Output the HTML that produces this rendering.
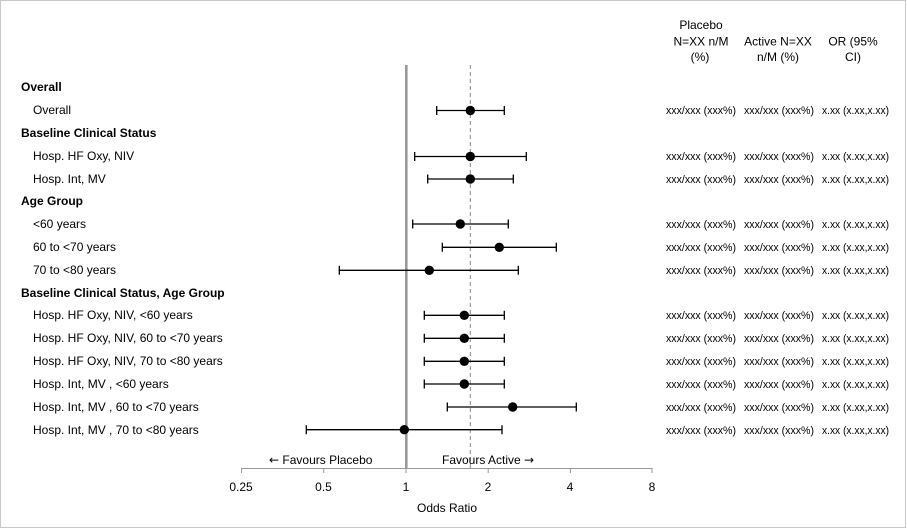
<!DOCTYPE html>
<html><head><meta charset="utf-8"><style>
html,body{margin:0;padding:0;background:#fff;}
svg{display:block;}
text{font-family:"Liberation Sans",Arial,sans-serif;font-size:12px;fill:#000;}
.b{font-weight:bold;}
.d{font-size:11px;}
.ar{font-family:"DejaVu Sans",sans-serif;font-size:12px;}
</style></head><body>
<svg width="907" height="529" viewBox="0 0 907 529" xmlns="http://www.w3.org/2000/svg">
<rect x="0.5" y="0.5" width="905" height="527" fill="#fff" stroke="#c8c8c8" stroke-width="1"/>
<!-- headers -->
<g text-anchor="middle">
<text x="701" y="29">Placebo</text>
<text x="701" y="45.5">N=XX n/M</text>
<text x="700" y="61">(%)</text>
<text x="778" y="45.5">Active N=XX</text>
<text x="778" y="61">n/M (%)</text>
<text x="853" y="45.5">OR (95%</text>
<text x="853" y="61">CI)</text>
</g>
<!-- reference lines -->
<line x1="470.3" y1="65" x2="470.3" y2="469" stroke="#888" stroke-width="1" stroke-dasharray="4,3"/>
<line x1="406.3" y1="65" x2="406.3" y2="469" stroke="#999" stroke-width="2.6"/>
<!-- axis -->
<g stroke="#999" stroke-width="1" fill="none">
<line x1="241" y1="468.5" x2="652.5" y2="468.5"/>
<line x1="241.5" y1="468" x2="241.5" y2="473"/>
<line x1="323.7" y1="468" x2="323.7" y2="473"/>
<line x1="406" y1="468" x2="406" y2="473"/>
<line x1="488.2" y1="468" x2="488.2" y2="473"/>
<line x1="570.4" y1="468" x2="570.4" y2="473"/>
<line x1="652" y1="468" x2="652" y2="473"/>
</g>
<g text-anchor="middle">
<text x="241" y="491">0.25</text>
<text x="323.5" y="491">0.5</text>
<text x="406" y="491">1</text>
<text x="488" y="491">2</text>
<text x="570" y="491">4</text>
<text x="652" y="491">8</text>
<text x="447" y="512">Odds Ratio</text>
</g>
<text x="269" y="464"><tspan class="ar">←</tspan> Favours Placebo</text>
<text x="442" y="464">Favours Active <tspan class="ar">→</tspan></text>
<!-- labels -->
<text class="b" x="21" y="91">Overall</text>
<text x="33" y="114">Overall</text>
<text class="b" x="21" y="137">Baseline Clinical Status</text>
<text x="33" y="160">Hosp. HF Oxy, NIV</text>
<text x="33" y="183">Hosp. Int, MV</text>
<text class="b" x="21" y="205">Age Group</text>
<text x="33" y="228">&lt;60 years</text>
<text x="33" y="251">60 to &lt;70 years</text>
<text x="33" y="274">70 to &lt;80 years</text>
<text class="b" x="21" y="297">Baseline Clinical Status, Age Group</text>
<text x="33" y="319">Hosp. HF Oxy, NIV, &lt;60 years</text>
<text x="33" y="342">Hosp. HF Oxy, NIV, 60 to &lt;70 years</text>
<text x="33" y="365">Hosp. HF Oxy, NIV, 70 to &lt;80 years</text>
<text x="33" y="388">Hosp. Int, MV , &lt;60 years</text>
<text x="33" y="411">Hosp. Int, MV , 60 to &lt;70 years</text>
<text x="33" y="434">Hosp. Int, MV , 70 to &lt;80 years</text>
<!-- error bars -->
<g stroke="#000" stroke-width="1.3" fill="none">
<path d="M436.7 110.5H504.3M436.7 106V115M504.3 106V115"/>
<path d="M414.7 156.5H526.3M414.7 152V161M526.3 152V161"/>
<path d="M427.7 179H513.3M427.7 174.5V183.5M513.3 174.5V183.5"/>
<path d="M412.7 224H508.3M412.7 219.5V228.5M508.3 219.5V228.5"/>
<path d="M442.3 247.3H556.3M442.3 242.8V251.8M556.3 242.8V251.8"/>
<path d="M339.3 270.3H518.3M339.3 265.8V274.8M518.3 265.8V274.8"/>
<path d="M424.3 315.3H504.3M424.3 310.8V319.8M504.3 310.8V319.8"/>
<path d="M424.3 338.3H504.3M424.3 333.8V342.8M504.3 333.8V342.8"/>
<path d="M424.3 361.3H504.3M424.3 356.8V365.8M504.3 356.8V365.8"/>
<path d="M424.3 384H504.3M424.3 379.5V388.5M504.3 379.5V388.5"/>
<path d="M447.3 407H576.3M447.3 402.5V411.5M576.3 402.5V411.5"/>
<path d="M306.3 429.7H502M306.3 425.2V434.2M502 425.2V434.2"/>
</g>
<g fill="#000">
<circle cx="470.3" cy="110.5" r="4.7"/>
<circle cx="470.3" cy="156.5" r="4.7"/>
<circle cx="470.3" cy="179" r="4.7"/>
<circle cx="460.3" cy="224" r="4.7"/>
<circle cx="499.3" cy="247.3" r="4.7"/>
<circle cx="429.3" cy="270.3" r="4.7"/>
<circle cx="464.3" cy="315.3" r="4.7"/>
<circle cx="464.3" cy="338.3" r="4.7"/>
<circle cx="464.3" cy="361.3" r="4.7"/>
<circle cx="464.3" cy="384" r="4.7"/>
<circle cx="512.7" cy="407" r="4.7"/>
<circle cx="404.3" cy="429.7" r="4.7"/>
</g>
<!-- data columns -->
<g class="d">
<g id="r1">
<text class="d" x="666" y="114" textLength="70" lengthAdjust="spacingAndGlyphs">xxx/xxx (xxx%)</text>
<text class="d" x="744" y="114" textLength="70" lengthAdjust="spacingAndGlyphs">xxx/xxx (xxx%)</text>
<text class="d" x="822" y="114" textLength="67" lengthAdjust="spacingAndGlyphs">x.xx (x.xx,x.xx)</text>
</g>
<use href="#r1" y="46"/>
<use href="#r1" y="69"/>
<use href="#r1" y="114"/>
<use href="#r1" y="137"/>
<use href="#r1" y="160"/>
<use href="#r1" y="205"/>
<use href="#r1" y="228"/>
<use href="#r1" y="251"/>
<use href="#r1" y="274"/>
<use href="#r1" y="297"/>
<use href="#r1" y="320"/>
</g>
</svg>
</body></html>
